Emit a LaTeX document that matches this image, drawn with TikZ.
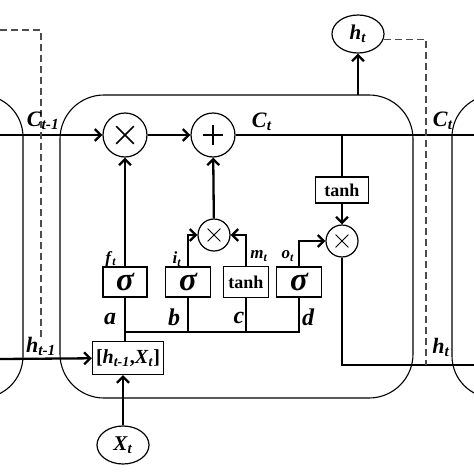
\documentclass[tikz,border=0pt]{standalone}
\usepackage{fontspec}
\setmainfont{Liberation Serif}
\usetikzlibrary{arrows.meta,shapes.geometric}
\newcommand{\lbl}[2]{\textbf{\textit{#1}\textsubscript{\textit{#2}}}}
\tikzset{mycell/.style={draw,line width=1.1pt,rounded corners=42pt},
mybox/.style={draw,line width=1.4pt,inner sep=0pt,minimum height=30pt},
myvar/.style={draw,ellipse,line width=1.2pt,inner sep=0pt,minimum width=52pt,minimum height=38pt,font=\fontsize{21}{21}\selectfont},
mymul/.style={draw,circle,line width=1.2pt,inner sep=0pt,minimum size=#1,
  path picture={\draw[line width=#1/22-0.5] ([shift={(-0.2*#1,-0.2*#1)}]path picture bounding box.center) -- ([shift={(0.2*#1,0.2*#1)}]path picture bounding box.center)
  ([shift={(-0.2*#1,0.2*#1)}]path picture bounding box.center) -- ([shift={(0.2*#1,-0.2*#1)}]path picture bounding box.center);}},
myadd/.style={draw,circle,line width=1.2pt,inner sep=0pt,minimum size=#1,
  path picture={\draw[line width=#1/22] ([xshift=-0.23*#1]path picture bounding box.center) -- ([xshift=0.23*#1]path picture bounding box.center)
  ([yshift=-0.23*#1]path picture bounding box.center) -- ([yshift=0.23*#1]path picture bounding box.center);}},
flow/.style={line width=2.3pt},
myarrow/.style={flow,-{Straight Barb[length=6pt,width=12pt]}},
mydash/.style={line width=1.2pt,dash pattern=on 7pt off 4pt,black!70},
mytext/.style={inner sep=0pt,font=\fontsize{22}{22}\selectfont},
gatetext/.style={inner sep=0pt,font=\fontsize{17}{17}\selectfont},
lettertext/.style={inner sep=0pt,font=\fontsize{24}{24}\selectfont\bfseries\itshape},
sigtext/.style={font=\fontsize{33}{33}\selectfont\bfseries\itshape},
tanhtext/.style={font=\fontsize{18}{18}\selectfont\bfseries}}

\begin{document}
\begin{tikzpicture}[x=1pt,y=-1pt]
\useasboundingbox (0,0) rectangle (474,474);
\clip (0,0) rectangle (474,474);
% cells
\draw[mycell] (-100,95) rectangle (23,398);
\draw[mycell,rounded corners=44pt] (60,95) rectangle (413,398);
\draw[mycell] (452,95) rectangle (600,398);
% operators
\node[mymul=44] (mulf) at (125,135) {};
\node[myadd=44] (addc) at (213,135) {};
\node[mymul=32] (mulm) at (214,235) {};
\node[mymul=32] (mulo) at (342,241) {};
% gates
\node[mybox,minimum width=44pt,sigtext] (fbox) at (125,282) {σ};
\node[mybox,minimum width=45pt,sigtext] (ibox) at (188,282) {σ};
\node[mybox,minimum width=45pt,minimum height=31pt,tanhtext] (mbox) at (246,282) {tanh};
\node[mybox,minimum width=45pt,sigtext] (obox) at (299,282) {σ};
\node[mybox,minimum width=53pt,minimum height=26pt,tanhtext] (tanhc) at (342,190) {tanh};
\node[mybox,minimum width=71pt,minimum height=33pt,font=\fontsize{20}{20}\selectfont] (concat) at (128,358) {\textbf{[\textit{h}\textsubscript{\textit{t-1}},\textit{X}\textsubscript{\textit{t}}]}};
% inputs and output
\node[myvar] (xt) at (123,445) {\lbl{X}{t}};
\node[myvar] (ht) at (358,34) {\lbl{h}{t}};
\coordinate (Cin) at (0,135);
\coordinate (Cout) at (474,135);
\coordinate (hin) at (0,359);
\coordinate (hout) at (474,365);
\coordinate (htop) at (358,95);
\coordinate (bus) at (125,332);
% cell state
\draw[myarrow] (Cin) -- (mulf);
\draw[myarrow] (mulf) -- (addc);
\draw[flow] (addc) -- (Cout);
\draw[flow] (tanhc |- addc) -- (tanhc.north);
\draw[myarrow] (tanhc) -- (mulo);
\draw[flow] (mulo) |- (hout);
\draw[myarrow] (htop) -- (ht);
% inputs
\draw[myarrow] (hin) -- (concat);
\draw[myarrow] (xt) -- (xt |- concat.south);
\draw[flow] (concat.north -| fbox) -- (fbox.south);
\draw[flow] (bus) -| (obox.south);
\draw[flow] (bus -| ibox) -- (ibox.south);
\draw[flow] (bus -| mbox) -- (mbox.south);
% gates to operators
\draw[myarrow] (fbox) -- (mulf);
\draw[myarrow] (ibox.north) |- (mulm);
\draw[myarrow] (mbox.north) |- (mulm);
\draw[myarrow] (mulm) -- (addc);
\draw[myarrow] (obox.north) |- (mulo);
% recurrent links
\coordinate (dl) at (0,30);
\coordinate (dlend) at (41,337);
\coordinate (drend) at (426,365);
\draw[mydash] (dl) -| (dlend);
\draw[mydash] (ht.-12) -| (drend);
% labels
\node[mytext] (lcprev) at (43,121) {\lbl{C}{t-1}};
\node[mytext] (lc) at (262,122) {\lbl{C}{t}};
\node[mytext] (lcnext) at (443,121) {\lbl{C}{t}};
\node[mytext] (lhprev) at (41,346) {\lbl{h}{t-1}};
\node[mytext] (lhnext) at (441,347) {\lbl{h}{t}};
\node[gatetext] (lf) at (111,259) {\lbl{f}{t}};
\node[gatetext] (li) at (177,259) {\lbl{i}{t}};
\node[gatetext] (lm) at (259,256) {\lbl{m}{t}};
\node[gatetext] (lo) at (288,256) {\lbl{o}{t}};
\node[lettertext] (la) at (110,319) {a};
\node[lettertext] (lb) at (174,317) {b};
\node[lettertext] (lcc) at (239,318) {c};
\node[lettertext] (ld) at (308,317) {d};
\end{tikzpicture}
\end{document}
